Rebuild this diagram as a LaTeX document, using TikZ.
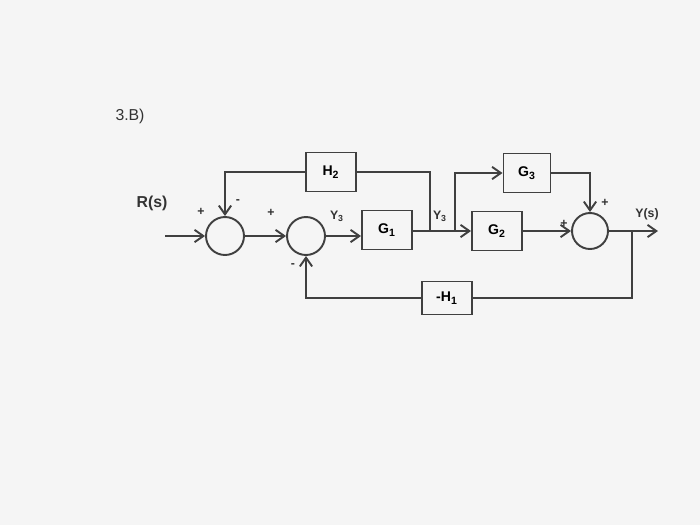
\documentclass[tikz,border=0pt]{standalone}
\usepackage{fontspec}
\setmainfont{Liberation Sans}
\usetikzlibrary{arrows.meta}
\newcommand{\sbx}[1]{\textsubscript{#1}}
\begin{document}
\begin{tikzpicture}[x=0.02cm,y=-0.02cm,
  blk/.style={draw=black!75,line width=1.1pt,minimum width=1cm,minimum height=0.78cm,inner sep=0pt,font=\bfseries\footnotesize},
  sumj/.style={draw=black!75,line width=1.1pt,circle,minimum size=0.76cm,inner sep=0pt},
  wire/.style={draw=black!75,line width=1.1pt},
  arr/.style={wire,-{Straight Barb[length=5pt,width=7pt]}},
  lbl/.style={font=\bfseries\scriptsize,text=black!80}]
\fill[black!4] (0,0) rectangle (700,525);
\useasboundingbox (0,0) rectangle (700,525);
\node[font=\small,text=black!80] (title) at (130,116) {3.B)};
\node[sumj] (s1) at (225,236) {};
\node[sumj] (s2) at (306,236) {};
\node[sumj,minimum size=0.72cm] (s3) at (590,231) {};
\node[blk] (g1) at (387,230) {G\sbx{1}};
\node[blk] (h2) at (331,172) {H\sbx{2}};
\node[blk] (g2) at (497,231) {G\sbx{2}};
\node[blk,minimum width=0.94cm] (g3) at (527,173) {G\sbx{3}};
\node[blk,minimum height=0.66cm] (h1) at (447,298) {-H\sbx{1}};
\coordinate (in) at (165,236);
\coordinate (out) at (658,231);
\coordinate (ny) at (430,231);
\coordinate (nb) at (455,231);
\coordinate (nf) at (632,231);
\draw[arr] (in) -- (s1.west);
\draw[arr] (s1.east) -- (s2.west);
\draw[arr] (s2.east) -- (s2.east -| g1.west);
\draw[arr] (g1.east |- ny) -- (ny) -- (g2.west);
\draw[wire] (h2.east) -| (ny);
\draw[arr] (h2.west) -| (s1.north);
\draw[arr] (nb) |- (g3.west);
\draw[arr] (g3.east) -| (s3.north);
\draw[arr] (g2.east) -- (s3.west);
\draw[arr] (s3.east) -- (out);
\draw[wire] (nf) |- (h1.east);
\draw[arr] (h1.west) -| (s2.south);
\node[lbl,font=\bfseries\small] (rs) at (152,203) {R(s)};
\node[lbl] (p1) at (201,212) {+};
\node[lbl] (m1) at (238,202) {-};
\node[lbl] (p2) at (271,213) {+};
\node[lbl] (m2) at (293,266) {-};
\node[lbl] (y3a) at (337,216) {Y\sbx{3}};
\node[lbl] (y3b) at (440,216) {Y\sbx{3}};
\node[lbl] (p3) at (564,224) {+};
\node[lbl] (p4) at (605,203) {+};
\node[lbl] (ys) at (647,214) {Y(s)};
\end{tikzpicture}
\end{document}
